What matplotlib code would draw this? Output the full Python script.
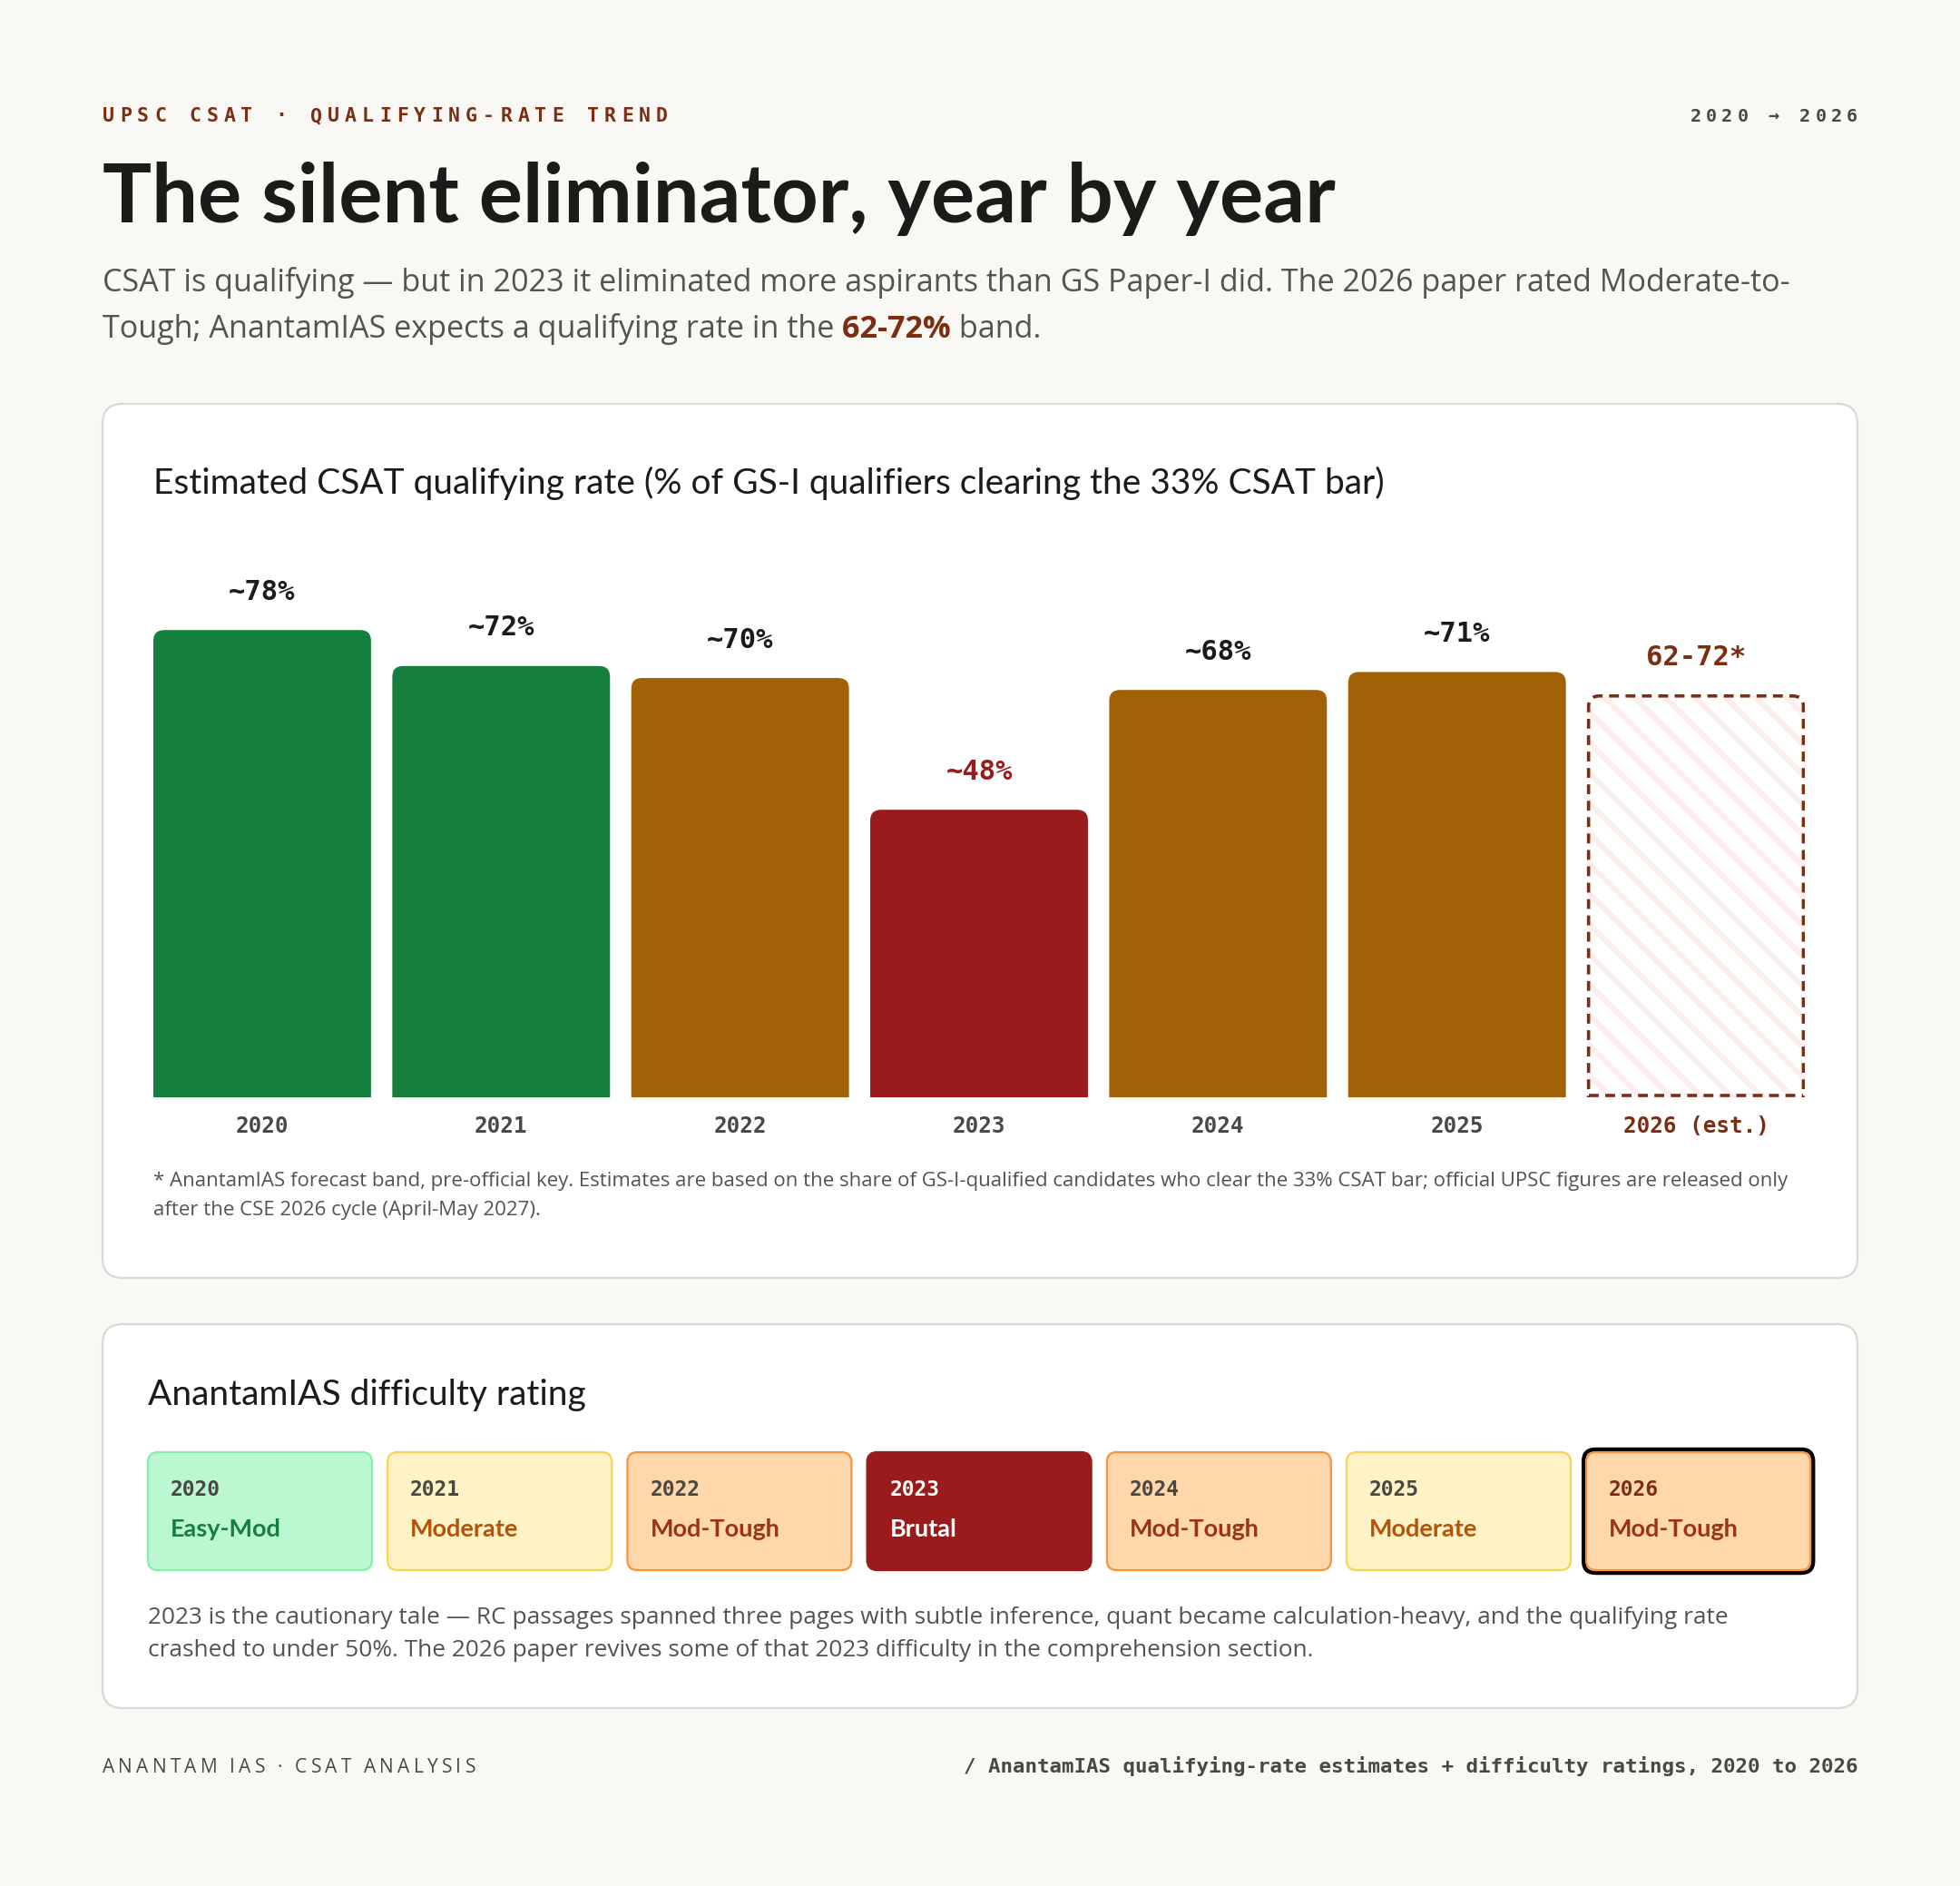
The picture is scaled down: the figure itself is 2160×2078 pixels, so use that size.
import matplotlib
matplotlib.use('Agg')
import matplotlib.pyplot as plt
from matplotlib.patches import FancyBboxPatch

# ---- data
years = ['2020', '2021', '2022', '2023', '2024', '2025', '2026']
rates = [78, 72, 70, 48, 68, 71, 67]          # 2026 drawn at mid of the 62-72 band
rate_labels = ['~78%', '~72%', '~70%', '~48%', '~68%', '~71%', '62-72*']
year_labels = ['2020', '2021', '2022', '2023', '2024', '2025', '2026 (est.)']
bar_kind = ['good', 'good', 'mid', 'bad', 'mid', 'mid', 'est']
ratings = ['Easy-Mod', 'Moderate', 'Mod-Tough', 'Brutal', 'Mod-Tough', 'Moderate', 'Mod-Tough']

kicker = 'UPSC CSAT · QUALIFYING-RATE TREND'
span = '2020 → 2026'
title = 'The silent eliminator, year by year'
sub1 = 'CSAT is qualifying — but in 2023 it eliminated more aspirants than GS Paper-I did. The 2026 paper rated Moderate-to-'
sub2 = ['Tough; AnantamIAS expects a qualifying rate in the', ' 62-72%', ' band.']
chart_title = 'Estimated CSAT qualifying rate (% of GS-I qualifiers clearing the 33% CSAT bar)'
footnote = ['* AnantamIAS forecast band, pre-official key. Estimates are based on the share of GS-I-qualified candidates who clear the 33% CSAT bar; official UPSC figures are released only',
            'after the CSE 2026 cycle (April-May 2027).']
rating_title = 'AnantamIAS difficulty rating'
para = ['2023 is the cautionary tale — RC passages spanned three pages with subtle inference, quant became calculation-heavy, and the qualifying rate',
        'crashed to under 50%. The 2026 paper revives some of that 2023 difficulty in the comprehension section.']
foot_left = 'ANANTAM IAS · CSAT ANALYSIS'
foot_right = '/ AnantamIAS qualifying-rate estimates + difficulty ratings, 2020 to 2026'

# ---- style
W, H, DPI = 2160, 2078, 100
BG = '#f9f8f4'
INK = '#1c1b19'
GREY = '#55534e'
BROWN = '#7c2d12'
HEAD = 'Lato'
SANS = 'Open Sans'
MONO = 'DejaVu Sans Mono'

bar_colors = {'good': '#15803d', 'mid': '#a16207', 'bad': '#991b1b'}
label_colors = {'good': INK, 'mid': INK, 'bad': '#991b1b', 'est': BROWN}
tile_styles = {  # face, edge, text
    'Easy-Mod': ('#bbf7d0', '#86efac', '#15803d'),
    'Moderate': ('#fef3c7', '#fcd34d', '#b45309'),
    'Mod-Tough': ('#fed7aa', '#fb923c', '#9a3412'),
    'Brutal': ('#991b1b', '#991b1b', '#ffffff'),
}

plt.rcParams['hatch.linewidth'] = 4.6

fig = plt.figure(figsize=(W / DPI, H / DPI), dpi=DPI, facecolor=BG)
ax0 = fig.add_axes([0, 0, 1, 1])
ax0.set_xlim(0, W)
ax0.set_ylim(H, 0)
ax0.axis('off')
renderer = fig.canvas.get_renderer()


def card(x0, y0, x1, y1):
    ax0.add_patch(FancyBboxPatch((x0, y0), x1 - x0, y1 - y0,
                                 boxstyle='round,pad=0,rounding_size=22',
                                 fc='white', ec='#d9d8d4', lw=1.6))


def tracked_mono(x, y, s, size, track, color, weight='normal', ha='left'):
    adv = 0.602 * size * DPI / 72 + track
    total = adv * len(s) - track
    if ha == 'right':
        x = x - total
    for k, ch in enumerate(s):
        ax0.text(x + k * adv + (adv - track) / 2, y, ch, fontsize=size, family=MONO,
                 color=color, weight=weight, ha='center', va='baseline')


def tracked_sans(x, y, s, size, track, color, weight='normal'):
    for ch in s:
        if ch == ' ':
            x += size * 0.26 * DPI / 72 + track
            continue
        t = ax0.text(x, y, ch, fontsize=size, family=SANS, color=color, weight=weight, va='baseline')
        x += t.get_window_extent(renderer).width + track


# ---- header
tracked_mono(113, 134, kicker, 15.5, 6.1, BROWN, weight='bold')
tracked_mono(2047, 134, span, 14.5, 5.1, '#4a4844', weight='bold', ha='right')
ax0.text(113, 245, title, fontsize=65, weight='bold', family=HEAD, color=INK, va='baseline')
ax0.text(113, 321, sub1, fontsize=24.6, family=SANS, color=GREY, va='baseline')
x = 113
for k, part in enumerate(sub2):
    t = ax0.text(x, 372, part, fontsize=24.6, family=SANS, va='baseline',
                 color=BROWN if k == 1 else GREY, weight='bold' if k == 1 else 'normal')
    x = ax0.transData.inverted().transform(t.get_window_extent(renderer))[1][0]

# ---- chart card
card(113, 445, 2047, 1408)
ax0.text(169, 544, chart_title, fontsize=28, family=HEAD, color=INK, va='baseline')
for k, line in enumerate(footnote):
    ax0.text(169, 1307 + 32 * k, line, fontsize=16, family=SANS, color=GREY, va='baseline')

base_px, top_px, px_per_pct = 1209, 590, 6.6
left_px, right_px = 169, 1989
pitch_px = (right_px - left_px) / 6.911
BW = 0.911
axb = fig.add_axes([left_px / W, 1 - base_px / H, (right_px - left_px) / W, (base_px - top_px) / H])
axb.set_facecolor('none')
axb.set_xlim(-BW / 2, 6 + BW / 2)
axb.set_ylim(0, (base_px - top_px) / px_per_pct)
axb.axis('off')
aspect = pitch_px / px_per_pct
rs = 12 / pitch_px

for i, (v, kind) in enumerate(zip(rates, bar_kind)):
    x0 = i - BW / 2
    if kind == 'est':
        axb.add_patch(FancyBboxPatch((x0, -20), BW, v + 20,
                                     boxstyle=f'round,pad=0,rounding_size={rs}', mutation_aspect=aspect,
                                     fc='white', ec='#fdeeee', lw=0, hatch='\\'))
        axb.add_patch(FancyBboxPatch((x0 + 0.006, -20), BW - 0.012, v + 20,
                                     boxstyle=f'round,pad=0,rounding_size={rs}', mutation_aspect=aspect,
                                     fc='none', ec=BROWN, lw=2.6, linestyle=(0, (3.0, 2.0))))
        axb.plot([x0 + 0.006, x0 + BW - 0.006], [0.3, 0.3], color=BROWN, lw=2.6,
                 linestyle=(0, (3.0, 2.0)), solid_capstyle='butt')
    else:
        axb.add_patch(FancyBboxPatch((x0, -20), BW, v + 20,
                                     boxstyle=f'round,pad=0,rounding_size={rs}', mutation_aspect=aspect,
                                     fc=bar_colors[kind], ec='none'))
    axb.annotate(rate_labels[i], (i, v), xytext=(0, 42), textcoords='offset pixels',
                 ha='center', va='center', fontsize=22, family=MONO, weight='bold',
                 color=label_colors[kind], annotation_clip=False)
    axb.annotate(year_labels[i], (i, 0), xytext=(0, -32), textcoords='offset pixels',
                 ha='center', va='center', fontsize=17.5, family=MONO, weight='bold',
                 color=BROWN if kind == 'est' else '#4a4844', annotation_clip=False)

# ---- difficulty card
card(113, 1459, 2047, 1882)
ax0.text(163, 1548, rating_title, fontsize=28, family=HEAD, color=INK, va='baseline')
tile_x0, tile_pitch, tile_w, tile_y0, tile_h = 163, 264.2, 247, 1600, 130
for i, (yr, r) in enumerate(zip(years, ratings)):
    fc, ec, tc = tile_styles[r]
    tx = tile_x0 + i * tile_pitch
    if i == 6:
        ax0.add_patch(FancyBboxPatch((tx - 3, tile_y0 - 3), tile_w + 6, tile_h + 6,
                                     boxstyle='round,pad=0,rounding_size=13',
                                     fc='none', ec='black', lw=3.2))
    ax0.add_patch(FancyBboxPatch((tx, tile_y0), tile_w, tile_h,
                                 boxstyle='round,pad=0,rounding_size=11',
                                 fc=fc, ec=ec, lw=1.6))
    yc = '#ffffff' if r == 'Brutal' else (BROWN if i == 6 else '#4a4844')
    ax0.text(tx + 25, 1648, yr, fontsize=16.5, family=MONO, weight='bold', color=yc, va='baseline')
    ax0.text(tx + 25, 1693, r, fontsize=19.5, family=HEAD, weight='bold', color=tc, va='baseline')

for k, line in enumerate(para):
    ax0.text(163, 1789 + 36 * k, line, fontsize=18.9, family=SANS, color=GREY, va='baseline')

# ---- footer
tracked_sans(113, 1953, foot_left, 15, 4.2, '#4a4844')
ax0.text(2047, 1953, foot_right, fontsize=16.2, family=MONO, weight='bold', color='#4a4844',
         ha='right', va='baseline')

fig.savefig('out.png', dpi=DPI, facecolor=BG)
